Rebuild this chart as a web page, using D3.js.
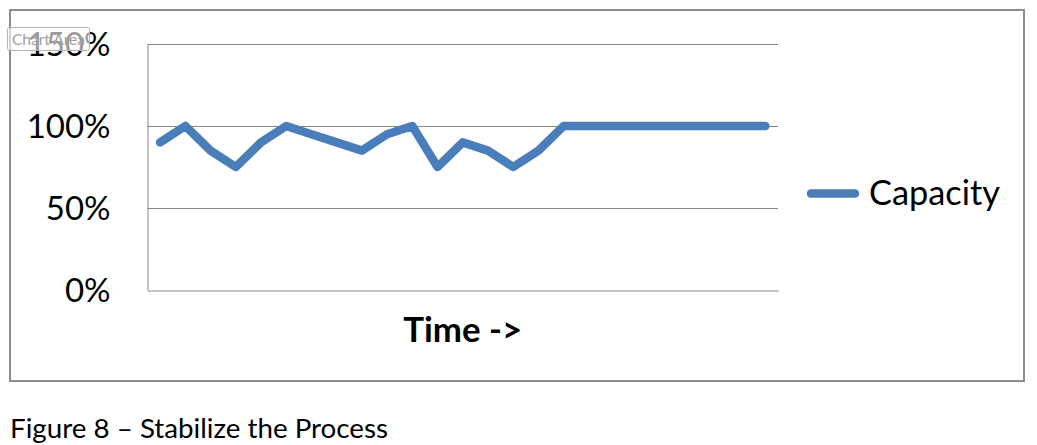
<!DOCTYPE html>
<html>
<head>
<meta charset="utf-8">
<script src="https://cdn.jsdelivr.net/npm/d3@7"></script>
<style>
  html, body { margin: 0; padding: 0; background: #ffffff; }
  svg { display: block; }
  text { font-family: Lato, "Open Sans", "DejaVu Sans", sans-serif; fill: #000; }
</style>
</head>
<body>
<svg id="chart" width="1037" height="445"></svg>
<script>
// ---- data ----
const categories = [1, 2, 3, 4, 5, 6, 7, 8, 9, 10, 11, 12, 13, 14, 15, 16, 17, 18, 19, 20, 21, 22, 23, 24, 25];
const capacity = [90, 100, 85, 75, 90, 100, 95, 90, 85, 95, 100, 75, 90, 85, 75, 85, 100, 100, 100, 100, 100, 100, 100, 100, 100];
const yTicks = [0, 50, 100, 150];
const seriesName = "Capacity";
const xAxisTitle = "Time ->";
const caption = "Figure 8 \u2013 Stabilize the Process";
const tooltipLabel = "Chart Area";

// ---- layout ----
const svg = d3.select("#chart");
const plot = { left: 147.5, right: 778, top: 44, bottom: 290 };
const lineColor = "#4a7ebb";
const gridColor = "#868686";

function fitText(sel, targetWidth, startSize) {
  sel.style("font-size", startSize + "px");
  const w = sel.node().getComputedTextLength();
  if (w > 0) sel.style("font-size", (startSize * targetWidth / w).toFixed(2) + "px");
}

// outer chart area border
svg.append("rect")
  .attr("x", 10).attr("y", 10)
  .attr("width", 1014).attr("height", 371)
  .attr("fill", "#fff")
  .attr("stroke", "#8c8c8c")
  .attr("stroke-width", 2);

const x = d3.scaleBand().domain(categories).range([plot.left, plot.right]);
const y = d3.scaleLinear().domain([0, 150]).range([plot.bottom, plot.top]);

// gridlines
svg.append("g")
  .selectAll("line")
  .data(yTicks.filter(d => d > 0))
  .join("line")
  .attr("x1", plot.left).attr("x2", plot.right)
  .attr("y1", d => Math.round(y(d)) + 0.5).attr("y2", d => Math.round(y(d)) + 0.5)
  .attr("stroke", gridColor).attr("stroke-width", 1);

// axes
const yAxis = d3.axisLeft(y).tickValues(yTicks).tickSize(0).tickFormat(d => d + "%");
const gy = svg.append("g").attr("transform", `translate(${plot.left},0)`).call(yAxis);
gy.select(".domain").attr("stroke", gridColor).attr("stroke-width", 1);
gy.selectAll("text")
  .attr("x", -37)
  .attr("dy", "0.36em")
  .style("font-family", "Lato, 'Open Sans', sans-serif")
  .style("font-size", "33px")
  .attr("fill", "#000");

const xAxis = d3.axisBottom(x).tickSize(0).tickFormat("");
const gx = svg.append("g").attr("transform", `translate(0,${plot.bottom + 0.5})`).call(xAxis);
gx.select(".domain").attr("stroke", gridColor).attr("stroke-width", 1);

// line
const line = d3.line()
  .x((d, i) => x(categories[i]) + x.bandwidth() / 2)
  .y(d => y(d));

svg.append("path")
  .datum(capacity)
  .attr("d", line)
  .attr("fill", "none")
  .attr("stroke", lineColor)
  .attr("stroke-width", 8.5)
  .attr("stroke-linejoin", "round")
  .attr("stroke-linecap", "round");

// x axis title
const xt = svg.append("text")
  .attr("x", (plot.left + plot.right) / 2)
  .attr("y", 342)
  .attr("text-anchor", "middle")
  .style("font-weight", "bold")
  .text(xAxisTitle);
fitText(xt, 119, 32);

// legend
svg.append("line")
  .attr("x1", 811).attr("x2", 855)
  .attr("y1", 193.5).attr("y2", 193.5)
  .attr("stroke", lineColor)
  .attr("stroke-width", 8.5)
  .attr("stroke-linecap", "round");
const lt = svg.append("text")
  .attr("x", 869)
  .attr("y", 193)
  .attr("dy", "0.36em")
  .text(seriesName);
fitText(lt, 131, 32);

// caption
const ct = svg.append("text")
  .attr("x", 10)
  .attr("y", 438)
  .text(caption);
fitText(ct, 378, 26);

// "Chart Area" tooltip overlay (as in the screenshot)
const tip = svg.append("g");
tip.append("rect")
  .attr("x", 7.5).attr("y", 27.5)
  .attr("width", 82).attr("height", 23)
  .attr("rx", 2)
  .attr("fill", "rgba(255,255,255,0.6)")
  .attr("stroke", "#b4b4b4")
  .attr("stroke-width", 1);
const tt = tip.append("text")
  .attr("x", 12).attr("y", 44.5)
  .style("fill", "#a0a0a0")
  .text(tooltipLabel);
fitText(tt, 73, 15);
</script>
</body>
</html>
